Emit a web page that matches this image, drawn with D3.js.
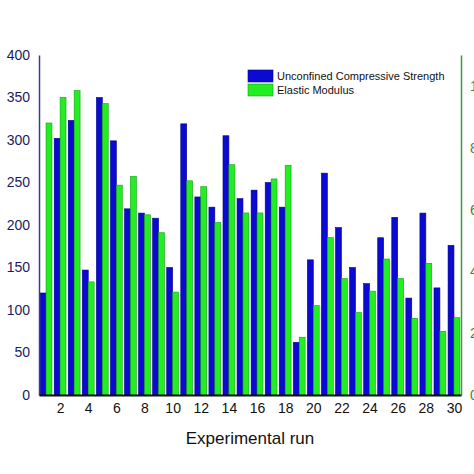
<!DOCTYPE html>
<html>
<head>
<meta charset="utf-8">
<script src="https://cdn.jsdelivr.net/npm/d3@7"></script>
<style>
  body { margin: 0; background: #fff; }
  text { font-family: "Liberation Sans", Arial, sans-serif; }
</style>
</head>
<body>
<svg id="chart" width="474" height="474"></svg>
<script>
// experimental runs 1..30
var runs = d3.range(1, 31);
// Unconfined Compressive Strength (left axis)
var ucs = [120, 302, 323, 147, 350, 299, 219, 214, 208, 150,
           319, 233, 221, 305, 231, 241, 250, 221, 62, 159,
           261, 197, 150, 131, 185, 209, 114, 214, 126, 176];
// Elastic Modulus (right axis)
var modulus = [8.8, 9.63, 9.85, 3.66, 9.43, 6.79, 7.07, 5.83, 5.25, 3.33,
               6.93, 6.74, 5.58, 7.45, 5.89, 5.89, 6.99, 7.43, 1.87, 2.89,
               5.09, 3.77, 2.67, 3.36, 4.4, 3.77, 2.48, 4.26, 2.06, 2.5];
var leftTicks = [0, 50, 100, 150, 200, 250, 300, 350, 400];
var rightTicks = [0, 2, 4, 6, 8, 10];
var xTicks = [2, 4, 6, 8, 10, 12, 14, 16, 18, 20, 22, 24, 26, 28, 30];
var seriesNames = ["Unconfined Compressive Strength", "Elastic Modulus"];

var margin = {top: 55, right: 13, bottom: 79, left: 39},
	width = 474 - margin.left - margin.right,
	height = 474 - margin.top - margin.bottom;

var blue = "#0a0ad2", blueEdge = "#00008a";
var green = "#22ee22", greenEdge = "#14a014";

var svg = d3.select("#chart")
var g = svg.append("g").attr("transform", "translate(" + margin.left + "," + margin.top + ")");

// scales
var x = d3.scaleLinear().domain([0.5, 30.5]).range([0, width]);
var yL = d3.scaleLinear().domain([0, 400]).range([height, 0]);
var yR = d3.scaleLinear().domain([0, 11]).range([height, 0]);

var step = x(2) - x(1);
var bw = step * 0.42;

// blue bars
g.selectAll(".ucs").data(runs).enter().append("rect")
	.attr("class", "ucs")
	.attr("x", d => x(d) - bw)
	.attr("width", bw)
	.attr("y", (d, i) => yL(ucs[i]))
	.attr("height", (d, i) => height - yL(ucs[i]))
	.attr("fill", blue)
	.attr("stroke", blueEdge)
	.attr("stroke-width", 0.6)

// green bars
g.selectAll(".mod").data(runs).enter().append("rect")
	.attr("class", "mod")
	.attr("x", d => x(d))
	.attr("width", bw)
	.attr("y", (d, i) => yR(modulus[i]))
	.attr("height", (d, i) => height - yR(modulus[i]))
	.attr("fill", green)
	.attr("stroke", greenEdge)
	.attr("stroke-width", 0.6)

// left axis
var axL = g.append("g")
	.call(d3.axisLeft(yL).tickValues(leftTicks).tickSize(0).tickPadding(9));
axL.select(".domain").attr("stroke", "#3b3b8f").attr("stroke-width", 1.5);
axL.selectAll("text").attr("font-size", 14).attr("fill", "#1c1c5e");

// right axis
var axR = g.append("g").attr("transform", "translate(" + width + ",0)")
	.call(d3.axisRight(yR).tickValues(rightTicks).tickSize(0).tickPadding(9));
axR.select(".domain").attr("stroke", "#3c9a3c").attr("stroke-width", 1.5);
axR.selectAll("text").attr("font-size", 14).attr("fill", "#2f8f2f");

// bottom axis
var axB = g.append("g").attr("transform", "translate(0," + height + ")")
	.call(d3.axisBottom(x).tickValues(xTicks).tickSize(0).tickPadding(8));
axB.select(".domain").attr("stroke", "#111").attr("stroke-width", 2);
axB.selectAll("text").attr("font-size", 14).attr("fill", "#111");

// x label
svg.append("text")
	.attr("x", 250).attr("y", 444)
	.attr("text-anchor", "middle")
	.attr("font-size", 17)
	.attr("fill", "#111")
	.text("Experimental run");

// legend
var leg = svg.append("g").attr("transform", "translate(248,70)");
leg.selectAll("rect").data(seriesNames).enter().append("rect")
	.attr("x", 0).attr("y", (d, i) => i * 14)
	.attr("width", 25).attr("height", 12)
	.attr("fill", (d, i) => i == 0 ? blue : green)
	.attr("stroke", (d, i) => i == 0 ? blueEdge : greenEdge)
	.attr("stroke-width", 0.6);
leg.selectAll("text").data(seriesNames).enter().append("text")
	.attr("x", 29).attr("y", (d, i) => i * 14 + 10)
	.attr("font-size", 11)
	.attr("fill", "#111")
	.text(d => d);
</script>
</body>
</html>
